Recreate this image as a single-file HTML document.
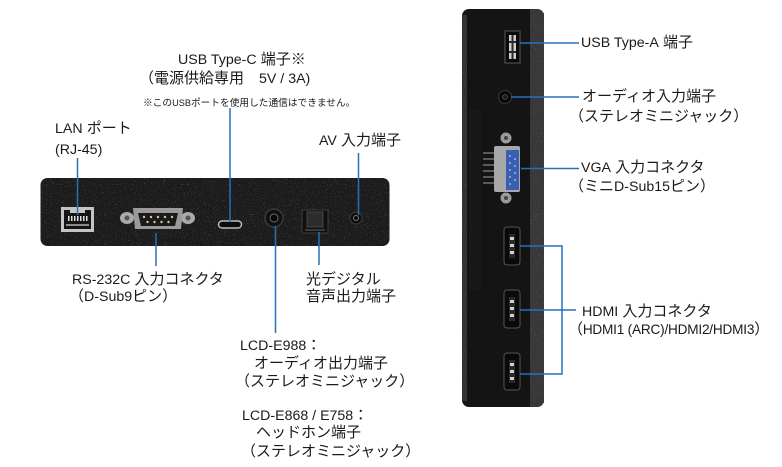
<!DOCTYPE html>
<html><head><meta charset="utf-8">
<style>
html,body{margin:0;padding:0;background:#fff;}
body{width:782px;height:467px;position:relative;overflow:hidden;font-family:"Liberation Sans","Noto Sans CJK JP",sans-serif;color:#1a1a1a;}
svg{position:absolute;left:0;top:0;}
.t{position:absolute;white-space:nowrap;font-size:15px;line-height:18px;}
.l{font-size:14.2px;}
.s{position:absolute;white-space:nowrap;font-size:9.7px;line-height:12px;}
.s .l{font-size:9.2px;}
</style></head><body>
<svg width="782" height="467" viewBox="0 0 782 467">
  <defs>
    <filter id="nz" x="0" y="0" width="100%" height="100%">
      <feTurbulence type="fractalNoise" baseFrequency="0.9" numOctaves="2" seed="3" result="n"/>
      <feColorMatrix in="n" type="matrix" values="0 0 0 0 0.42  0 0 0 0 0.42  0 0 0 0 0.42  0 0 0 1.3 -0.85" result="s"/>
      <feComposite in="s" in2="SourceGraphic" operator="in" result="m"/>
      <feMerge><feMergeNode in="SourceGraphic"/><feMergeNode in="m"/></feMerge>
    </filter>
  </defs>

  <!-- bottom panel -->
  <rect x="40.5" y="178" width="349" height="68" rx="7" fill="#1c1c1c" filter="url(#nz)"/>
  <!-- LAN -->
  <rect x="61" y="207" width="33" height="25" fill="#c4c4c4"/>
  <rect x="64" y="210" width="27" height="19" fill="#151515"/>
  <rect x="70" y="210" width="15" height="3" fill="#c4c4c4"/>
  <g fill="#e0e0e0">
    <rect x="68" y="216" width="1.5" height="5"/><rect x="71" y="216" width="1.5" height="5"/>
    <rect x="74" y="216" width="1.5" height="5"/><rect x="77" y="216" width="1.5" height="5"/>
    <rect x="80" y="216" width="1.5" height="5"/><rect x="83" y="216" width="1.5" height="5"/>
    <rect x="86" y="216" width="1.5" height="5"/>
  </g>
  <rect x="66" y="224" width="23" height="2" fill="#8a8a8a"/>
  <!-- D-sub 9 -->
  <ellipse cx="127" cy="218" rx="7" ry="6" fill="#a9a9a9"/>
  <ellipse cx="188" cy="218" rx="7" ry="6" fill="#a9a9a9"/>
  <circle cx="127" cy="218" r="2.5" fill="#555"/>
  <circle cx="188" cy="218" r="2.5" fill="#555"/>
  <polygon points="133,208 183,208 181,229 135,229" fill="#9a9a9a"/>
  <polygon points="138,213 178,213 175,226 141,226" fill="#1a1a1a"/>
  <g fill="#d8c890">
    <circle cx="144" cy="217" r="1.2"/><circle cx="151" cy="217" r="1.2"/><circle cx="158" cy="217" r="1.2"/><circle cx="165" cy="217" r="1.2"/><circle cx="172" cy="217" r="1.2"/>
    <circle cx="147.5" cy="222" r="1.2"/><circle cx="154.5" cy="222" r="1.2"/><circle cx="161.5" cy="222" r="1.2"/><circle cx="168.5" cy="222" r="1.2"/>
  </g>
  <!-- USB-C -->
  <rect x="218.5" y="221" width="23" height="7" rx="3.5" fill="#0c0c0c" stroke="#bdbdbd" stroke-width="1.4"/>
  <!-- audio jack -->
  <circle cx="274" cy="218" r="9" fill="#111" stroke="#3a3a3a" stroke-width="1.5"/>
  <circle cx="274" cy="218" r="4" fill="#050505" stroke="#6a6a6a" stroke-width="1"/>
  <!-- optical -->
  <rect x="302" y="210" width="26" height="23" fill="#101010" stroke="#3d3d3d" stroke-width="1"/>
  <rect x="307" y="212" width="16" height="15" fill="#2c2c2c" stroke="#505050" stroke-width="0.8"/>
  <rect x="305" y="229" width="20" height="2" fill="#3a3a3a"/>
  <!-- AV jack -->
  <circle cx="356" cy="218" r="6" fill="#0d0d0d" stroke="#3a3a3a" stroke-width="1.2"/>
  <circle cx="356" cy="218" r="2.5" fill="#080808" stroke="#7a7a7a" stroke-width="1"/>

  <!-- right panel -->
  <rect x="462" y="9" width="82" height="398" rx="7" fill="#141414"/>
  <rect x="530" y="13" width="14" height="390" fill="#383838" filter="url(#nz)"/>
  <path d="M530,9 h7 a7,7 0 0 1 7,7 v4 h-14 z" fill="#383838"/>
  <path d="M530,407 h7 a7,7 0 0 0 7,-7 v-4 h-14 z" fill="#383838"/>
  <rect x="462" y="15" width="5" height="386" fill="#333" filter="url(#nz)"/>
  <rect x="469" y="110" width="12" height="180" fill="#181818"/>
  <!-- USB-A -->
  <rect x="505" y="31" width="15" height="32" fill="#0a0a0a" stroke="#5a5a5a" stroke-width="1"/>
  <rect x="509" y="35" width="7" height="24" fill="#cfcfcf"/>
  <rect x="511.5" y="35" width="2" height="24" fill="#2a2a2a"/>
  <rect x="509" y="41" width="7" height="2" fill="#2a2a2a"/>
  <rect x="509" y="51" width="7" height="2" fill="#2a2a2a"/>
  <!-- audio in -->
  <circle cx="505" cy="97" r="6.5" fill="#050505" stroke="#2e2e2e" stroke-width="1.5"/>
  <circle cx="505" cy="97" r="2.5" fill="#1a1a1a" stroke="#555" stroke-width="0.8"/>
  <!-- VGA -->
  <circle cx="506" cy="138" r="5.5" fill="#9a9a9a"/>
  <circle cx="506" cy="198" r="5.5" fill="#9a9a9a"/>
  <circle cx="506" cy="138" r="2" fill="#444"/>
  <circle cx="506" cy="198" r="2" fill="#444"/>
  <g fill="#5a5a5a">
    <rect x="483" y="152" width="11" height="2"/><rect x="483" y="158" width="11" height="2"/>
    <rect x="483" y="164" width="11" height="2"/><rect x="483" y="170" width="11" height="2"/>
    <rect x="483" y="176" width="11" height="2"/><rect x="483" y="182" width="11" height="2"/>
  </g>
  <rect x="494" y="146" width="26" height="46" rx="2" fill="#a8a8a8"/>
  <rect x="506" y="150" width="13" height="40" fill="#3a5fb0"/>
  <g fill="#9fb6e6">
    <circle cx="510" cy="156" r="1"/><circle cx="510" cy="163" r="1"/><circle cx="510" cy="170" r="1"/><circle cx="510" cy="177" r="1"/><circle cx="510" cy="184" r="1"/>
    <circle cx="515" cy="159" r="1"/><circle cx="515" cy="166" r="1"/><circle cx="515" cy="173" r="1"/><circle cx="515" cy="180" r="1"/>
  </g>
  <!-- HDMI ports -->
  <g>
    <rect x="504" y="227" width="16" height="38" rx="3" fill="#0a0a0a" stroke="#555" stroke-width="1"/>
    <rect x="509" y="234" width="6" height="24" fill="#2a2a2a"/>
    <g fill="#d0d0d0"><rect x="510" y="237" width="4" height="3"/><rect x="510" y="244" width="4" height="3"/><rect x="510" y="251" width="4" height="3"/></g>
    <rect x="504" y="290" width="16" height="38" rx="3" fill="#0a0a0a" stroke="#555" stroke-width="1"/>
    <rect x="509" y="297" width="6" height="24" fill="#2a2a2a"/>
    <g fill="#d0d0d0"><rect x="510" y="300" width="4" height="3"/><rect x="510" y="307" width="4" height="3"/><rect x="510" y="314" width="4" height="3"/></g>
    <rect x="504" y="353" width="16" height="37" rx="3" fill="#0a0a0a" stroke="#555" stroke-width="1"/>
    <rect x="509" y="360" width="6" height="23" fill="#2a2a2a"/>
    <g fill="#d0d0d0"><rect x="510" y="363" width="4" height="3"/><rect x="510" y="370" width="4" height="3"/><rect x="510" y="377" width="4" height="3"/></g>
  </g>

  <!-- connector lines -->
  <g stroke="#2272bd" stroke-width="1.5" fill="none">
    <line x1="77.5" y1="158" x2="77.5" y2="215"/>
    <line x1="230" y1="108" x2="230" y2="222"/>
    <line x1="358.5" y1="153" x2="358.5" y2="215"/>
    <line x1="156" y1="233" x2="156" y2="266"/>
    <line x1="275.5" y1="226" x2="275.5" y2="333"/>
    <line x1="319" y1="232" x2="319" y2="265"/>
    <line x1="520" y1="43" x2="579" y2="43"/>
    <line x1="511" y1="97" x2="579" y2="97"/>
    <line x1="521" y1="168.5" x2="579" y2="168.5"/>
    <line x1="520" y1="246" x2="562" y2="246"/>
    <line x1="520" y1="310" x2="576" y2="310"/>
    <line x1="520" y1="374" x2="562" y2="374"/>
    <line x1="562" y1="245.25" x2="562" y2="374.75"/>
  </g>
</svg>

<div class="t" style="left:178px;top:51px;"><span class="l">USB Type-C</span> 端子※</div>
<div class="t" style="left:139px;top:70px;">（電源供給専用　<span class="l">5V / 3A)</span></div>
<div class="s" style="left:143px;top:97px;">※この<span class="l">USB</span>ポートを使用した通信はできません。</div>
<div class="t" style="left:55px;top:120px;"><span class="l">LAN</span> ポート</div>
<div class="t" style="left:55px;top:141px;"><span class="l">(RJ-45)</span></div>
<div class="t" style="left:319px;top:132px;"><span class="l">AV</span> 入力端子</div>

<div class="t" style="left:72px;top:271px;"><span class="l">RS-232C</span> 入力コネクタ</div>
<div class="t" style="left:69px;top:288px;">（<span class="l">D-Sub9</span>ピン）</div>
<div class="t" style="left:306px;top:271px;">光デジタル</div>
<div class="t" style="left:306px;top:288px;">音声出力端子</div>

<div class="t" style="left:240px;top:337px;"><span class="l">LCD-E988</span>：</div>
<div class="t" style="left:254px;top:355px;">オーディオ出力端子</div>
<div class="t" style="left:235px;top:373px;">（ステレオミニジャック）</div>
<div class="t" style="left:242px;top:407px;"><span class="l">LCD-E868 / E758</span>：</div>
<div class="t" style="left:256px;top:424px;">ヘッドホン端子</div>
<div class="t" style="left:241px;top:443px;">（ステレオミニジャック）</div>

<div class="t" style="left:581px;top:34px;"><span class="l">USB Type-A</span> 端子</div>
<div class="t" style="left:582px;top:88px;">オーディオ入力端子</div>
<div class="t" style="left:569px;top:108px;">（ステレオミニジャック）</div>
<div class="t" style="left:581px;top:159px;"><span class="l">VGA</span> 入力コネクタ</div>
<div class="t" style="left:569px;top:178px;">（ミニ<span class="l">D-Sub15</span>ピン）</div>
<div class="t" style="left:582px;top:303px;"><span class="l">HDMI</span> 入力コネクタ</div>
<div class="t" style="left:568px;top:321px;letter-spacing:-0.2px;">（<span class="l" style="font-size:13.6px;">HDMI1 (ARC)/HDMI2/HDMI3</span>）</div>
</body></html>
